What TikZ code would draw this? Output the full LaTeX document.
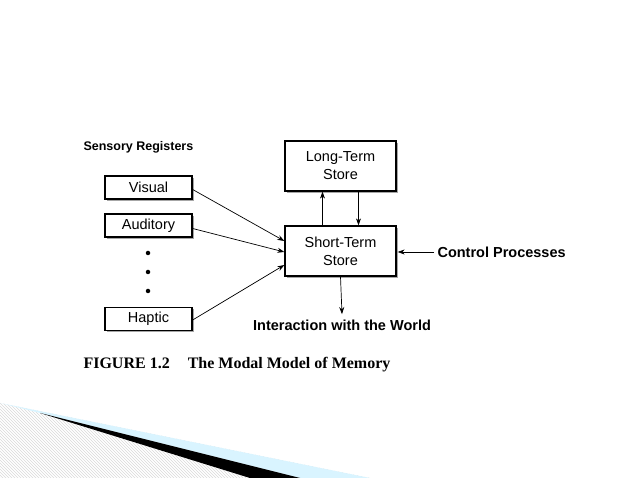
\documentclass[tikz,border=0pt]{standalone}
\usepackage{fontspec}
\setmainfont{Liberation Sans}
\newfontfamily\capfont{Liberation Serif}
\usetikzlibrary{arrows.meta,patterns,shadows}
\begin{document}
\begin{tikzpicture}[x=1pt,y=-1pt,
  box/.style={draw,line width=1.3pt,fill=white,font=\fontsize{14.5}{18}\selectfont,align=center,
    inner sep=0pt,drop shadow={shadow xshift=2pt,shadow yshift=-2pt,fill=black!35,opacity=1}},
  arr/.style={-{Stealth[length=7pt,width=5pt]},line width=0.7pt},
  dot/.style={circle,fill=black,inner sep=0pt,minimum size=4.5pt},
  lbl/.style={font=\bfseries\fontsize{14.5}{17}\selectfont}]
\useasboundingbox (0,0) rectangle (638,478);
% slide decoration
\fill[pattern=north west lines,pattern color=black!15] (0,403) -- (370,478) -- (0,478) -- cycle;
\fill[blue!30!cyan!15] (0,403) -- (370,478) -- (300,478) -- cycle;
\fill[black] (40,413) -- (300,478) -- (250,478) -- cycle;
% boxes
\node[box,minimum width=87pt,minimum height=23pt] (vis) at (148.5,187.5) {Visual};
\node[box,minimum width=87pt,minimum height=23pt] (aud) at (148.5,225.5) {Auditory};
\node[box,minimum width=87pt,minimum height=23pt] (hap) at (148.5,319) {Haptic};
\node[box,minimum width=111pt,minimum height=50pt] (lts) at (340.5,166) {Long-Term\\Store};
\node[box,minimum width=111pt,minimum height=50pt] (sts) at (340.5,251) {Short-Term\\Store};
\node[dot] (d1) at (148,253) {};
\node[dot] (d2) at (148,272) {};
\node[dot] (d3) at (148,291) {};
\node[lbl,anchor=west,font=\bfseries\fontsize{12.5}{15}\selectfont] (sr) at (80,147) {Sensory Registers};
\node[lbl,anchor=west] (cp) at (434,252) {Control Processes};
\node[lbl] (iw) at (342,325) {Interaction with the World};
% connectors
\draw[arr] (vis.east) ++(0,2) coordinate (v0) (v0) -- ([yshift=10pt]sts.west);
\draw[arr] (aud.east) ++(0,3) coordinate (a0) (a0) -- ([yshift=-1pt]sts.west);
\draw[arr] (hap.east) ++(0,1) coordinate (h0) (h0) -- ([yshift=-14pt]sts.west);
\draw[arr] ([xshift=-18pt]sts.north) -- ([xshift=-18pt]lts.south);
\draw[arr] ([xshift=18pt]lts.south) -- ([xshift=18pt]sts.north);
\draw[arr] (cp.west) -- ([xshift=1pt]sts.east |- cp.west);
\draw[arr] (sts.south) -- ([yshift=2pt]iw.north);
% caption
\node[anchor=west,font=\capfont\bfseries\fontsize{16}{18}\selectfont] (cap) at (80,365)
  {FIGURE 1.2\hspace{18pt}The Modal Model of Memory};
\end{tikzpicture}
\end{document}
